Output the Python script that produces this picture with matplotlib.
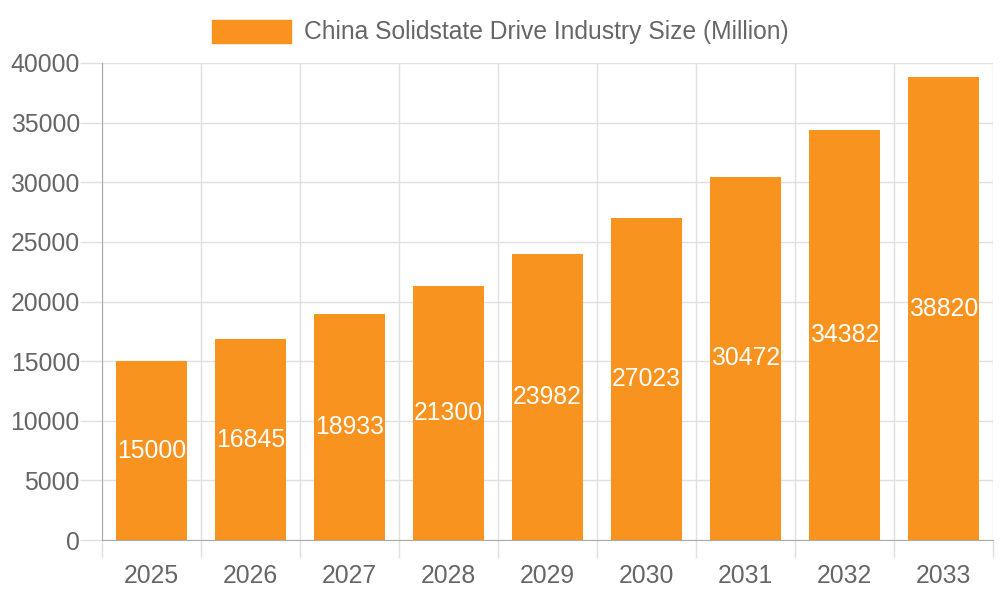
import numpy as np
from matplotlib import pyplot as plt
from matplotlib.patches import Rectangle

years = ["2025", "2026", "2027", "2028", "2029", "2030", "2031", "2032", "2033"]
sizes = [15000, 16845, 18933, 21300, 23982, 27023, 30472, 34382, 38820]
series_name = "China Solidstate Drive Industry Size (Million)"

orange = "#F7931E"
grid_c = "#e0e0e0"
axis_c = "#aaaaaa"
text_c = "#666666"
fs = 17.8

plt.rcParams['font.family'] = ['Liberation Sans', 'DejaVu Sans']

fig = plt.figure(figsize=(10, 6), dpi=100)
ax = fig.add_axes([0.102, 0.1, 0.891, 0.795])

x = np.arange(len(years))
bars = ax.bar(x, sizes, width=0.71, color=orange, zorder=2)
for xi, v in zip(x, sizes):
    ax.text(xi, v / 2, str(v), ha="center", va="center", color="white",
            fontsize=fs, zorder=3)

ax.set_xlim(-0.5, len(years) - 0.5)
ax.set_ylim(0, 40000)
ax.set_yticks(np.arange(0, 40001, 5000))
ax.set_xticks(x)
ax.set_xticklabels(years)
ax.set_xticks(np.arange(-0.5, len(years), 1), minor=True)

ax.grid(True, axis="y", color=grid_c, linewidth=1, zorder=0)
ax.grid(True, axis="x", which="minor", color=grid_c, linewidth=1, zorder=0)
ax.tick_params(axis="x", which="major", length=0, pad=17, labelsize=fs, labelcolor=text_c)
ax.tick_params(axis="x", which="minor", length=13, color=grid_c, width=1)
ax.tick_params(axis="y", length=16, color=grid_c, width=1, pad=0, labelsize=fs, labelcolor=text_c)

for side in ["top", "right"]:
    ax.spines[side].set_visible(False)
ax.spines["left"].set_color(axis_c)
ax.spines["bottom"].set_color(axis_c)

# legend at top
fig.patches.append(Rectangle((0.212, 1 - 43 / 600), 0.079, 23 / 600,
                             transform=fig.transFigure, color=orange))
fig.text(0.304, 1 - 32 / 600, series_name, ha="left", va="center",
         color=text_c, fontsize=17.7)

fig.savefig("out.png", dpi=100)
